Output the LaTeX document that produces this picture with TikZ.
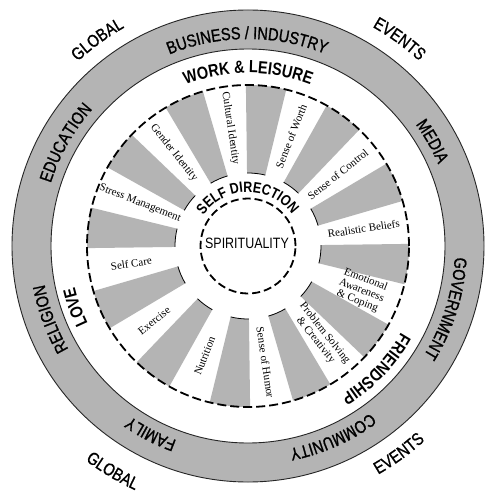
\documentclass[tikz,border=0pt]{standalone}
\usepackage{fontspec}
\setmainfont{Liberation Serif}
\newfontfamily\ringfont[FakeStretch=0.83]{Liberation Sans}
\newfontfamily\ringsemi[FakeStretch=0.83,FakeBold=1]{Liberation Sans}
\usetikzlibrary{decorations.text}
\definecolor{wheelgray}{RGB}{180,180,180}
\newcommand{\ringA}{\ringsemi\fontsize{17.5}{20}\selectfont}
\newcommand{\ringB}{\ringfont\bfseries\fontsize{17.5}{20}\selectfont}
\newcommand{\ringC}{\ringfont\bfseries\fontsize{15}{17}\selectfont}
% clockwise curved text: centre angle, radius, half span, font, text
\newcommand{\cwtext}[5]{%
  \path[decorate,decoration={text along path,text align=center,text={|#4|#5}}]
    ({#1+#3}:#2) arc[start angle={#1+#3},end angle={#1-#3},radius=#2];}
% counter-clockwise curved text
\newcommand{\ccwtext}[5]{%
  \path[decorate,decoration={text along path,text align=center,text={|#4|#5}}]
    ({#1-#3}:#2) arc[start angle={#1-#3},end angle={#1+#3},radius=#2];}
\begin{document}
\begin{tikzpicture}[x=1pt,y=1pt,
  lab/.style={font=\fontsize{11}{11.5}\selectfont,inner sep=0pt,align=center},
  ringline/.style={line width=0.9pt,draw=black!85},
  dashring/.style={line width=1.8pt,dash pattern=on 9pt off 4pt},
  wedge/.style={fill=wheelgray}]
\useasboundingbox (-248,-252) rectangle (252,246);
\fill[white] (-248,-252) rectangle (252,246);

% outer grey ring
\fill[wheelgray,even odd rule] (0,0) circle[radius=236] (0,0) circle[radius=197];
\draw[ringline] (0,0) circle[radius=236];
\draw[ringline] (0,0) circle[radius=197];

% grey wedges
\foreach \k in {0,...,11}{
  \pgfmathsetmacro\ca{83.5-30*\k-7.25}
  \pgfmathsetmacro\cb{83.5-30*\k+7.25}
  \fill[wedge] (\ca:73) -- (\ca:161) arc[start angle=\ca,end angle=\cb,radius=161]
     -- (\cb:73) arc[start angle=\cb,end angle=\ca,radius=73] -- cycle;
  \draw[line width=0.8pt] (\cb:73) arc[start angle=\cb,end angle=\ca,radius=73];
}

% dashed circles
\draw[dashring] (0,0) circle[radius=161];
\draw[dashring,dash pattern=on 8pt off 4pt] (0,0) circle[radius=47.5];

% centre
\node[font=\ringfont\fontsize{15}{17}\selectfont,inner sep=0pt] (spirit) at (-1,3) {SPIRITUALITY};

% wedge labels
\node[lab,rotate=-81.5] (cult)  at (98.5:119)  {Cultural Identity};
\node[lab,rotate=68.5]  (worth) at (68.5:118)  {Sense of Worth};
\node[lab,rotate=38.5]  (ctrl)  at (38.5:115)  {Sense of Control};
\node[lab,rotate=8.5]   (real)  at (8.5:117)   {Realistic Beliefs};
\node[lab,rotate=-21.5] (emo)   at (-21.5:122) {Emotional\\Awareness\\\& Coping};
\node[lab,rotate=-51.5] (prob)  at (-51.5:116) {Problem Solving\\\& Creativity};
\node[lab,rotate=-81.5] (humor) at (-81.5:118) {Sense of Humor};
\node[lab,rotate=68.5]  (nutr)  at (-111.5:118) {Nutrition};
\node[lab,rotate=38.5]  (exer)  at (-141.5:120) {Exercise};
\node[lab,rotate=8.5]   (care)  at (-171.5:118) {Self Care};
\node[lab,rotate=-21.5] (stress) at (158.5:116) {Stress Management};
\node[lab,rotate=-51.5] (gender) at (128.5:119) {Gender Identity};

% grey ring texts
\cwtext{90.2}{207}{50}{\ringA}{BUSINESS / INDUSTRY}
\cwtext{29.6}{207}{25}{\ringA}{MEDIA}
\cwtext{-17.5}{207}{35}{\ringA}{GOVERNMENT}
\cwtext{-66.1}{207}{35}{\ringA}{COMMUNITY}
\cwtext{-117.4}{207}{30}{\ringA}{FAMILY}
\cwtext{200.3}{207}{30}{\ringA}{RELIGION}
\cwtext{150.5}{207}{35}{\ringA}{EDUCATION}

% outside texts
\cwtext{126.1}{251}{25}{\ringA}{GLOBAL}
\cwtext{53.8}{252}{25}{\ringA}{EVENTS}
\ccwtext{-121}{269}{25}{\ringA}{GLOBAL}
\ccwtext{-54}{263}{25}{\ringA}{EVENTS}

% white ring texts
\cwtext{90}{173}{45}{\ringB}{WORK {\&} LEISURE}
\cwtext{-43.9}{176}{35}{\ringB}{FRIENDSHIP}
\cwtext{199.6}{178}{25}{\ringB}{LOVE}

% self direction
\cwtext{90.5}{54}{80}{\ringC}{SELF DIRECTION}
\end{tikzpicture}
\end{document}
